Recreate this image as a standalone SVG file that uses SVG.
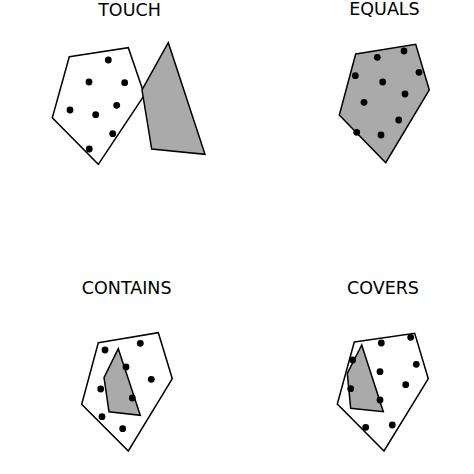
<svg xmlns="http://www.w3.org/2000/svg" width="474" height="474" viewBox="0 0 474 474">
<style>
.t{font-family:"DejaVu Sans",sans-serif;font-size:17.5px;text-anchor:middle;fill:#000}
.p{fill:none;stroke:#000;stroke-width:1.5;stroke-linejoin:miter}
.g{fill:#aaaaaa;stroke:#000;stroke-width:1.5}
.pg{fill:#aaaaaa;stroke:#000;stroke-width:1.5}
</style>
<defs><circle id="d" r="3.4" fill="#000"/></defs>
<rect width="474" height="474" fill="#fff"/>
<g id="touch">
<text class="t" x="129.5" y="15.7">TOUCH</text>
<polygon class="p" points="69.3,56.7 128.3,47.7 144.5,95 98.3,164.3 52.3,117.7"/>
<polygon class="g" points="168.3,42.7 142,90 151.7,149 205,154.3"/>
<use href="#d" x="108.3" y="60"/><use href="#d" x="89" y="82"/><use href="#d" x="124.7" y="82.7"/>
<use href="#d" x="116.7" y="105.3"/><use href="#d" x="70" y="110"/><use href="#d" x="95.7" y="114.7"/>
<use href="#d" x="112.7" y="133.7"/><use href="#d" x="89.3" y="149"/>
</g>
<g id="equals">
<text class="t" x="384.5" y="14.5">EQUALS</text>
<polygon class="pg" points="355.7,54 415.7,44.3 429.3,90 385.7,162.7 339.3,115"/>
<use href="#d" x="377.3" y="57.3"/><use href="#d" x="404" y="51"/><use href="#d" x="419" y="72.3"/>
<use href="#d" x="355.3" y="75.7"/><use href="#d" x="382.7" y="82"/><use href="#d" x="405" y="94"/>
<use href="#d" x="364" y="102.3"/><use href="#d" x="398.7" y="120"/><use href="#d" x="356.7" y="132.3"/>
<use href="#d" x="381" y="135"/>
</g>
<g id="contains">
<text class="t" x="126.7" y="294">CONTAINS</text>
<polygon class="p" points="98.3,342.7 158.3,332.7 172.3,378.7 128.3,451 81.7,404.3"/>
<polygon class="g" points="118.3,348.7 104,377.7 109,411.7 140.3,415.3"/>
<use href="#d" x="105" y="350"/><use href="#d" x="140.3" y="343.3"/><use href="#d" x="126" y="367"/>
<use href="#d" x="151.3" y="379.3"/><use href="#d" x="100.7" y="389"/><use href="#d" x="132.3" y="398"/>
<use href="#d" x="102" y="416.7"/><use href="#d" x="122.7" y="428.7"/>
</g>
<g id="covers">
<text class="t" x="383" y="294">COVERS</text>
<polygon class="p" points="354.3,342 414.7,333.3 428.3,378.7 384,451 337.3,404"/>
<polygon class="g" points="361.7,345 347.3,373.3 350.7,408.3 383.3,411.7"/>
<use href="#d" x="381.3" y="343"/><use href="#d" x="410.7" y="337.3"/><use href="#d" x="352.7" y="360"/>
<use href="#d" x="416.3" y="364.3"/><use href="#d" x="380" y="371.7"/><use href="#d" x="405.7" y="384.7"/>
<use href="#d" x="350.7" y="388.7"/><use href="#d" x="380" y="400"/><use href="#d" x="392.3" y="425"/>
<use href="#d" x="365.7" y="427.3"/>
</g>
<g id="connectors"></g>
</svg>
